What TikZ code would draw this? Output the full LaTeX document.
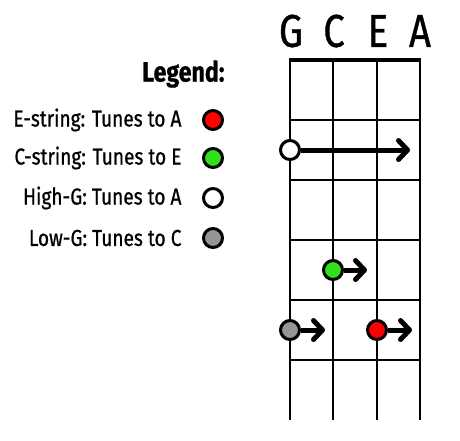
\documentclass[tikz,border=0pt]{standalone}
\usepackage{fontspec}
\setmainfont[FakeStretch=0.83,FakeBold=0.8]{Fira Sans}
\usetikzlibrary{arrows.meta}
\definecolor{lime}{RGB}{50,225,25}
\definecolor{stonegrey}{RGB}{150,150,150}
\tikzset{
	fret/.style={line width=2pt},
	dot/.style={circle, draw=black, line width=3pt, minimum size=19pt, inner sep=0pt},
	slide/.style={line width=5pt, -{Straight Barb[length=9pt,width=19pt,line cap=round,round]}},
	key/.style={anchor=east, font=\fontsize{23}{26}\selectfont},
	strname/.style={font=\fontsize{46}{50}\selectfont}
}
\begin{document}
\begin{tikzpicture}[x=1pt,y=-1pt]
		\useasboundingbox (0,0) rectangle (460,440);

		% strings
		\draw[fret] (290,60) -- (290,420);
		\draw[fret] (333,60) -- (333,420);
		\draw[fret] (377,60) -- (377,420);
		\draw[fret] (420,60) -- (420,420);

		% nut and frets
		\draw[line width=4.5pt] (289,60) -- (421,60);
		\draw[fret] (290,120) -- (420,120);
		\draw[fret] (290,180) -- (420,180);
		\draw[fret] (290,240) -- (420,240);
		\draw[fret] (290,300) -- (420,300);
		\draw[fret] (290,360) -- (420,360);

		% string names
		\node[strname] (G) at (291,31) {G};
		\node[strname] (C) at (334,31) {C};
		\node[strname] (E) at (378,31) {E};
		\node[strname] (A) at (420,31) {A};

		% legend
		\node[anchor=east, font=\bfseries\fontsize{28}{32}\selectfont] (legend) at (228,74) {Legend:};
		\node[key] (keyred) at (185,120) {E-string: Tunes to A};
		\node[key] (keygreen) at (185,158) {C-string: Tunes to E};
		\node[key] (keywhite) at (185,198) {High-G: Tunes to A};
		\node[key] (keygrey) at (185,238) {Low-G: Tunes to C};
		\node[dot, fill=red] (dotred) at (213,120) {};
		\node[dot, fill=lime] (dotgreen) at (213,158) {};
		\node[dot, fill=white] (dotwhite) at (213,198) {};
		\node[dot, fill=stonegrey] (dotgrey) at (213,238) {};

		% retuned strings
		\node[dot, fill=white] (highg) at (290,150) {};
		\node[dot, fill=lime] (cstr) at (333,270) {};
		\node[dot, fill=stonegrey] (lowg) at (290,330) {};
		\node[dot, fill=red] (estr) at (377,330) {};

		\coordinate (highgto) at (410,150);
		\coordinate (cstrto) at (367,270);
		\coordinate (lowgto) at (325,330);
		\coordinate (estrto) at (412,330);

		\draw[slide] (highg) -- (highgto);
		\draw[slide] (cstr) -- (cstrto);
		\draw[slide] (lowg) -- (lowgto);
		\draw[slide] (estr) -- (estrto);
	\end{tikzpicture}
\end{document}
